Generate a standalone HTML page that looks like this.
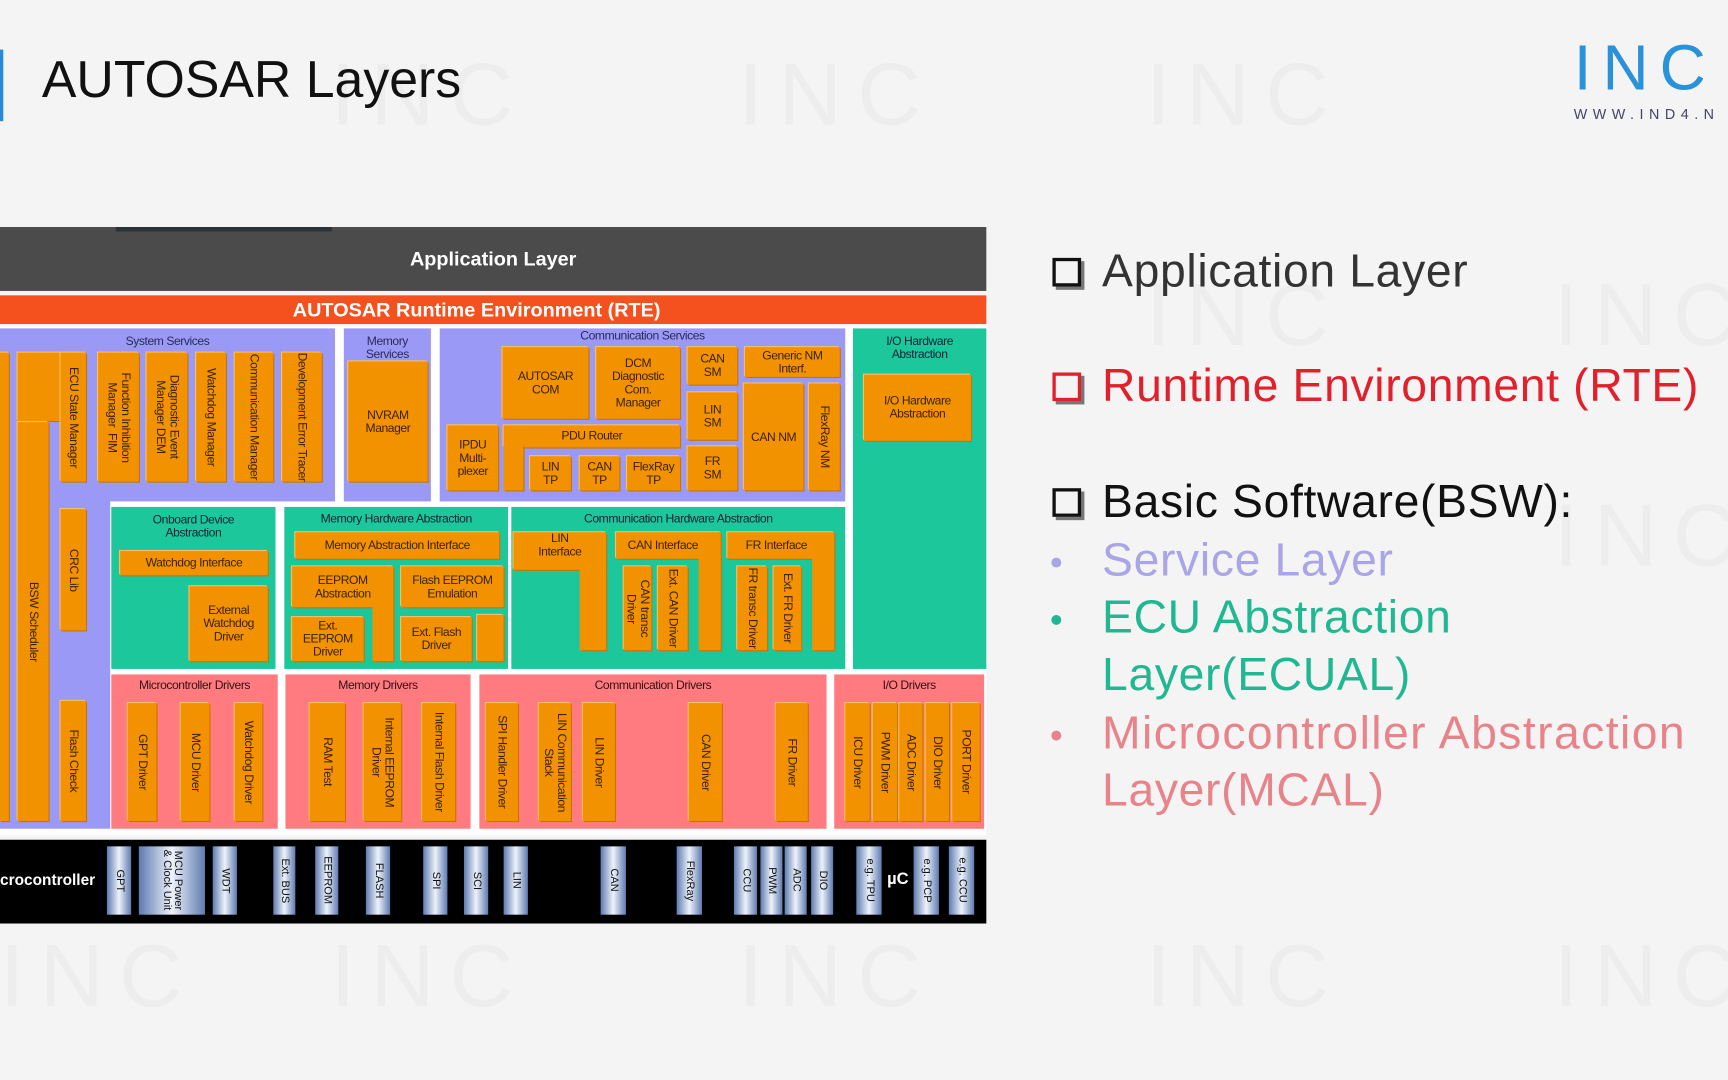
<!DOCTYPE html>
<html><head><meta charset="utf-8"><style>
html,body{margin:0;padding:0;width:1728px;height:1080px;overflow:hidden;background:#f4f4f5;}
#s{position:absolute;left:0;top:0;width:1568px;height:980px;transform:scale(1.10204);transform-origin:0 0;font-family:"Liberation Sans",sans-serif;}
.a{position:absolute;box-sizing:border-box;}
.o{position:absolute;box-sizing:border-box;background:#f39200;box-shadow:1px 1px 0 #c77400,-1px -1px 0 #f8c060;display:flex;align-items:center;justify-content:center;text-align:center;font-size:11px;line-height:12px;color:#3a2200;letter-spacing:-0.4px;}
.v{writing-mode:vertical-rl;}
.t{position:absolute;font-size:11px;color:#2a2a5a;text-align:center;letter-spacing:-0.4px;line-height:12px;}
.b{position:absolute;top:768px;height:62px;background:linear-gradient(90deg,#5e7bb0,#eef2fa 50%,#5e7bb0);display:flex;align-items:center;justify-content:center;writing-mode:vertical-rl;font-size:10px;line-height:10px;color:#111;text-align:center;}
.r{position:absolute;left:1000px;font-size:42px;white-space:nowrap;letter-spacing:0.6px;}
.cb{position:absolute;left:955px;width:26px;height:26px;box-sizing:border-box;border:3px solid #111;box-shadow:3px 3px 0 #777;}
.dot{position:absolute;left:954px;width:9px;height:9px;border-radius:50%;}
.wm{position:absolute;font-size:80px;color:#ededee;letter-spacing:14px;}
</style></head><body><div id="s">
<div class="wm" style="left:300px;top:40px">INC</div><div class="wm" style="left:670px;top:40px">INC</div><div class="wm" style="left:1040px;top:40px">INC</div>
<div class="wm" style="left:1040px;top:240px">INC</div><div class="wm" style="left:1410px;top:240px">INC</div><div class="wm" style="left:1410px;top:440px">INC</div>
<div class="wm" style="left:0px;top:840px">INC</div><div class="wm" style="left:300px;top:840px">INC</div><div class="wm" style="left:670px;top:840px">INC</div><div class="wm" style="left:1040px;top:840px">INC</div><div class="wm" style="left:1410px;top:840px">INC</div>

<div class="a" style="left:0;top:45px;width:3px;height:65px;background:#2a8ad8"></div>
<div class="a" style="left:38px;top:44px;font-size:47px;color:#111;white-space:nowrap">AUTOSAR Layers</div>
<div class="a" style="left:1428px;top:28px;font-size:58px;color:#2a92d8;letter-spacing:10px;white-space:nowrap">INC</div>
<div class="a" style="left:1428px;top:96px;font-size:13px;color:#446;letter-spacing:5px;white-space:nowrap">WWW.IND4.N</div>

<div class="a" style="left:0;top:296px;width:895px;height:462px;background:#fff"></div>
<div class="a" style="left:0;top:206px;width:895px;height:58px;background:#4b4b4b;color:#fff;font-weight:bold;font-size:18px;text-align:center;line-height:58px">Application Layer</div>
<div class="a" style="left:105px;top:206px;width:196px;height:4px;background:#2c3236"></div>
<div class="a" style="left:0;top:268px;width:895px;height:26px;background:#f4511e;color:#fff;font-weight:bold;font-size:18px;text-align:center;line-height:27px;padding-right:30px">AUTOSAR Runtime Environment (RTE)</div>

<div class="a" style="left:0;top:298px;width:304px;height:157px;background:#9b99f6"></div>
<div class="a" style="left:0;top:450px;width:100px;height:302px;background:#9b99f6"></div>
<div class="t" style="left:0;top:304px;width:304px">System Services</div>
<div class="a" style="left:312px;top:298px;width:79px;height:157px;background:#9b99f6"></div>
<div class="t" style="left:312px;top:304px;width:79px">Memory<br>Services</div>
<div class="a" style="left:399px;top:298px;width:368px;height:157px;background:#9b99f6"></div>
<div class="t" style="left:399px;top:299px;width:368px">Communication Services</div>
<div class="a" style="left:774px;top:298px;width:121px;height:309px;background:#1cc79c"></div>
<div class="t" style="left:774px;top:304px;width:121px;color:#123">I/O Hardware<br>Abstraction</div>

<div class="a" style="left:101px;top:460px;width:149px;height:147px;background:#1cc79c"></div>
<div class="t" style="left:101px;top:466px;width:149px;color:#123">Onboard Device<br>Abstraction</div>
<div class="a" style="left:258px;top:460px;width:203px;height:147px;background:#1cc79c"></div>
<div class="t" style="left:258px;top:465px;width:203px;color:#123">Memory Hardware Abstraction</div>
<div class="a" style="left:464px;top:460px;width:303px;height:147px;background:#1cc79c"></div>
<div class="t" style="left:464px;top:465px;width:303px;color:#123">Communication Hardware Abstraction</div>

<div class="a" style="left:101px;top:612px;width:151px;height:140px;background:#ff7b7f"></div>
<div class="t" style="left:101px;top:616px;width:151px;color:#311">Microcontroller Drivers</div>
<div class="a" style="left:259px;top:612px;width:168px;height:140px;background:#ff7b7f"></div>
<div class="t" style="left:259px;top:616px;width:168px;color:#311">Memory Drivers</div>
<div class="a" style="left:435px;top:612px;width:315px;height:140px;background:#ff7b7f"></div>
<div class="t" style="left:435px;top:616px;width:315px;color:#311">Communication Drivers</div>
<div class="a" style="left:757px;top:612px;width:136px;height:140px;background:#ff7b7f"></div>
<div class="t" style="left:757px;top:616px;width:136px;color:#311">I/O Drivers</div>

<div class="o" style="left:0;top:320px;width:8px;height:425px"></div>
<div class="o" style="left:16px;top:320px;width:62px;height:62px"></div>
<div class="o v" style="left:55px;top:320px;width:23px;height:117px">ECU State Manager</div>
<div class="o v" style="left:16px;top:383px;width:28px;height:362px">BSW Scheduler</div>
<div class="o v" style="left:55px;top:462px;width:23px;height:110px">CRC Lib</div>
<div class="o v" style="left:55px;top:636px;width:23px;height:109px">Flash Check</div>
<div class="o v" style="left:89px;top:320px;width:37px;height:117px">Function Inhibition Manager &nbsp;FIM</div>
<div class="o v" style="left:133px;top:320px;width:37px;height:117px">Diagnostic Event Manager DEM</div>
<div class="o v" style="left:178px;top:320px;width:27px;height:117px">Watchdog Manager</div>
<div class="o v" style="left:213px;top:320px;width:35px;height:117px">Communication Manager</div>
<div class="o v" style="left:256px;top:320px;width:36px;height:117px">Development Error Tracer</div>
<div class="o" style="left:316px;top:328px;width:72px;height:109px">NVRAM<br>Manager</div>

<div class="o" style="left:456px;top:315px;width:78px;height:65px">AUTOSAR<br>COM</div>
<div class="o" style="left:541px;top:315px;width:76px;height:65px">DCM<br>Diagnostic<br>Com.<br>Manager</div>
<div class="o" style="left:624px;top:315px;width:45px;height:34px">CAN<br>SM</div>
<div class="o" style="left:676px;top:315px;width:86px;height:27px">Generic NM<br>Interf.</div>
<div class="o" style="left:624px;top:356px;width:45px;height:43px">LIN<br>SM</div>
<div class="o" style="left:624px;top:405px;width:45px;height:40px">FR<br>SM</div>
<div class="o" style="left:675px;top:348px;width:54px;height:97px">CAN NM</div>
<div class="o v" style="left:734px;top:348px;width:28px;height:97px">FlexRay NM</div>
<div class="o" style="left:406px;top:386px;width:46px;height:59px">IPDU<br>Multi-<br>plexer</div>
<div class="o" style="left:457px;top:386px;width:160px;height:20px">PDU Router</div>
<div class="o" style="left:457px;top:404px;width:18px;height:41px;box-shadow:1px 1px 0 #c77400"></div>
<div class="o" style="left:481px;top:414px;width:37px;height:31px">LIN<br>TP</div>
<div class="o" style="left:526px;top:414px;width:36px;height:31px">CAN<br>TP</div>
<div class="o" style="left:569px;top:414px;width:48px;height:31px">FlexRay<br>TP</div>
<div class="o" style="left:784px;top:340px;width:97px;height:60px">I/O Hardware<br>Abstraction</div>

<div class="o" style="left:109px;top:500px;width:134px;height:22px">Watchdog Interface</div>
<div class="o" style="left:172px;top:532px;width:71px;height:68px">External<br>Watchdog<br>Driver</div>
<div class="o" style="left:268px;top:483px;width:185px;height:24px">Memory Abstraction Interface</div>
<div class="o" style="left:265px;top:514px;width:92px;height:37px">EEPROM<br>Abstraction</div>
<div class="o" style="left:338px;top:549px;width:19px;height:51px;box-shadow:1px 1px 0 #c77400"></div>
<div class="o" style="left:364px;top:514px;width:93px;height:37px">Flash EEPROM<br>Emulation</div>
<div class="o" style="left:265px;top:560px;width:65px;height:40px">Ext.<br>EEPROM<br>Driver</div>
<div class="o" style="left:364px;top:560px;width:64px;height:40px">Ext. Flash<br>Driver</div>
<div class="o" style="left:433px;top:558px;width:24px;height:42px"></div>
<div class="o" style="left:466px;top:483px;width:84px;height:34px;align-items:flex-start">LIN<br>Interface</div>
<div class="o" style="left:526px;top:515px;width:24px;height:75px;box-shadow:1px 1px 0 #c77400"></div>
<div class="o" style="left:559px;top:483px;width:95px;height:24px;padding-right:10px">CAN Interface</div>
<div class="o" style="left:634px;top:505px;width:20px;height:85px;box-shadow:1px 1px 0 #c77400"></div>
<div class="o v" style="left:566px;top:514px;width:25px;height:76px">CAN transc Driver</div>
<div class="o v" style="left:597px;top:514px;width:27px;height:76px">Ext. CAN Driver</div>
<div class="o" style="left:660px;top:483px;width:97px;height:24px;padding-right:8px">FR Interface</div>
<div class="o" style="left:737px;top:505px;width:20px;height:85px;box-shadow:1px 1px 0 #c77400"></div>
<div class="o v" style="left:669px;top:514px;width:27px;height:76px">FR transc Driver</div>
<div class="o v" style="left:702px;top:514px;width:25px;height:76px">Ext. FR Driver</div>

<div class="o v" style="left:116px;top:638px;width:26px;height:107px">GPT Driver</div>
<div class="o v" style="left:164px;top:638px;width:26px;height:107px">MCU Driver</div>
<div class="o v" style="left:213px;top:638px;width:25px;height:107px">Watchdog Driver</div>
<div class="o v" style="left:281px;top:638px;width:32px;height:107px">RAM Test</div>
<div class="o v" style="left:330px;top:638px;width:34px;height:107px">Internal EEPROM Driver</div>
<div class="o v" style="left:383px;top:638px;width:30px;height:107px">Internal Flash Driver</div>
<div class="o v" style="left:441px;top:638px;width:29px;height:107px">SPI Handler Driver</div>
<div class="o v" style="left:489px;top:638px;width:29px;height:107px">LIN Communication Stack</div>
<div class="o v" style="left:529px;top:638px;width:29px;height:107px">LIN Driver</div>
<div class="o v" style="left:625px;top:638px;width:30px;height:107px">CAN Driver</div>
<div class="o v" style="left:704px;top:638px;width:29px;height:107px">FR Driver</div>
<div class="o v" style="left:767px;top:638px;width:22px;height:107px">ICU Driver</div>
<div class="o v" style="left:792px;top:638px;width:22px;height:107px">PWM Driver</div>
<div class="o v" style="left:816px;top:638px;width:21px;height:107px">ADC Driver</div>
<div class="o v" style="left:840px;top:638px;width:21px;height:107px">DIO Driver</div>
<div class="o v" style="left:864px;top:638px;width:25px;height:107px">PORT Driver</div>

<div class="a" style="left:0;top:762px;width:895px;height:76px;background:#000"></div>
<div class="a" style="left:0;top:790px;color:#fff;font-weight:bold;font-size:14px">crocontroller</div>
<div class="b" style="left:97px;width:22px">GPT</div>
<div class="b" style="left:126px;width:60px">MCU Power &amp; Clock Unit</div>
<div class="b" style="left:193px;width:22px">WDT</div>
<div class="b" style="left:248px;width:20px">Ext. BUS</div>
<div class="b" style="left:286px;width:21px">EEPROM</div>
<div class="b" style="left:332px;width:22px">FLASH</div>
<div class="b" style="left:384px;width:22px">SPI</div>
<div class="b" style="left:421px;width:22px">SCI</div>
<div class="b" style="left:457px;width:22px">LIN</div>
<div class="b" style="left:545px;width:23px">CAN</div>
<div class="b" style="left:614px;width:23px">FlexRay</div>
<div class="b" style="left:666px;width:21px">CCU</div>
<div class="b" style="left:690px;width:20px">PWM</div>
<div class="b" style="left:712px;width:20px">ADC</div>
<div class="b" style="left:736px;width:20px">DIO</div>
<div class="b" style="left:777px;width:23px">e.g. TPU</div>
<div class="a" style="left:805px;top:789px;color:#fff;font-weight:bold;font-size:15px">µC</div>
<div class="b" style="left:829px;width:23px">e.g. PCP</div>
<div class="b" style="left:861px;width:23px">e.g. CCU</div>

<div class="cb" style="top:234px"></div>
<div class="r" style="top:222px;color:#333">Application Layer</div>
<div class="cb" style="top:338px;border-color:#e0202a"></div>
<div class="r" style="top:326px;color:#e0202a">Runtime Environment (RTE)</div>
<div class="cb" style="top:443px"></div>
<div class="r" style="top:431px;color:#111">Basic Software(BSW):</div>
<div class="dot" style="top:506px;background:#a9a5e6"></div>
<div class="r" style="top:484px;color:#a9a5e6">Service Layer</div>
<div class="dot" style="top:558px;background:#20b890"></div>
<div class="r" style="top:536px;color:#20b890">ECU Abstraction</div>
<div class="r" style="top:588px;color:#20b890">Layer(ECUAL)</div>
<div class="dot" style="top:663px;background:#e9838a"></div>
<div class="r" style="top:641px;color:#e9838a;letter-spacing:1.3px">Microcontroller Abstraction</div>
<div class="r" style="top:693px;color:#e9838a">Layer(MCAL)</div>
</div></body></html>
